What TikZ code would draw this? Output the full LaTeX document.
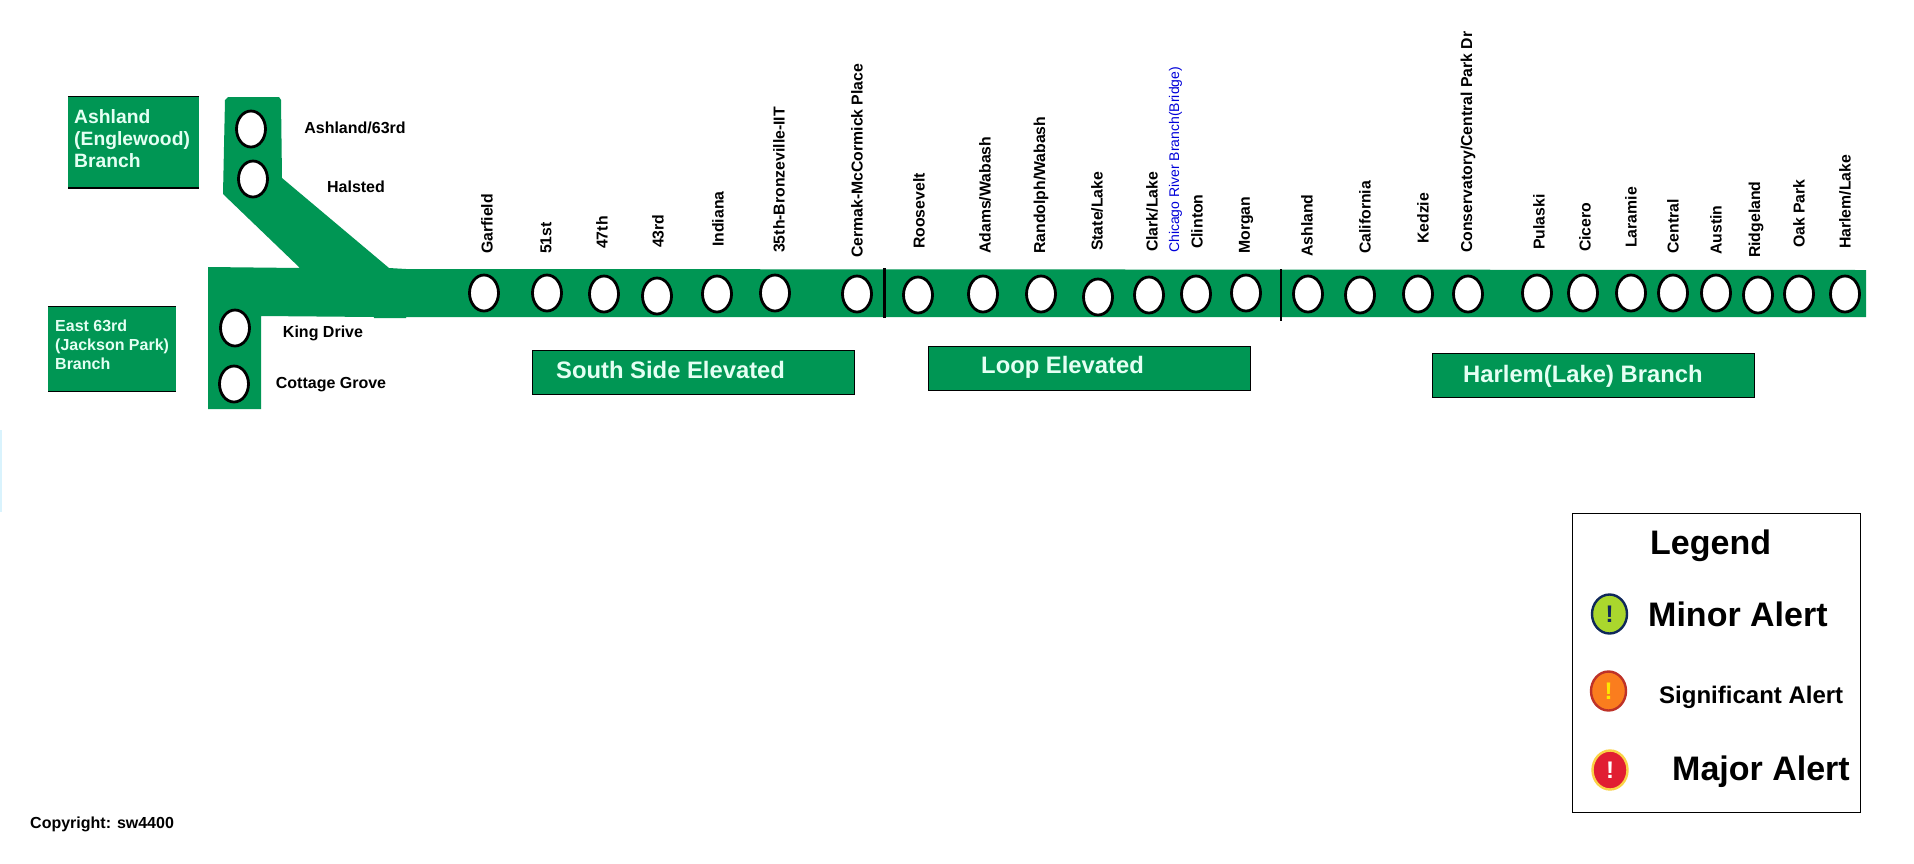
\documentclass[tikz,border=0pt]{standalone}
\usepackage{fontspec}
\setmainfont{Liberation Sans}
\usetikzlibrary{shapes.geometric}
\definecolor{lgreen}{RGB}{0,150,84}
\definecolor{mint}{RGB}{228,255,243}
\tikzset{
 x=1pt,y=-1pt,
 station/.style={draw=black,line width=2.8pt,fill=white,ellipse,minimum width=29pt,minimum height=36pt,inner sep=0pt},
 vlabel/.style={rotate=90,anchor=west,font=\bfseries\fontsize{15.8}{16}\selectfont,inner sep=0pt,yshift=-1pt},
 hlabel/.style={font=\bfseries\fontsize{16}{16}\selectfont,inner sep=0pt},
 greenbox/.style={fill=lgreen,draw=black,line width=.8pt,inner sep=0pt,minimum width=322pt,minimum height=44pt},
 boxtext/.style={text=mint,font=\bfseries\fontsize{23.8}{24}\selectfont,inner sep=0pt,anchor=west},
 branchlabel/.style={text=mint,align=left,anchor=north west,inner sep=0pt},
 legendtext/.style={inner sep=0pt,anchor=west},
 alerticon/.style={ellipse,inner sep=0pt,minimum width=35pt,minimum height=39pt,line width=2.4pt},
 alertmark/.style={font=\bfseries\fontsize{24}{24}\selectfont,inner sep=0pt},
}
\begin{document}
\begin{tikzpicture}
\useasboundingbox (0,0) rectangle (1914,863);
\fill[white] (0,0) rectangle (1914,863);
\fill[cyan!15] (0,430) rectangle (1.5,512);
% track
\fill[lgreen] (208,267) -- (300,268) -- (223,194) -- (225,100) -- (228,97) -- (279,97) -- (281,100) -- (282,178) -- (389,268) -- (406,269) -- (1866,270) -- (1866,317) -- (406,317) -- (406,318) -- (374,318) -- (374,317) -- (261,316) -- (261,409) -- (208,409) -- cycle;
\draw[black,line width=2.8pt] (884.5,268) -- (884.5,318);
\draw[black,line width=2.8pt] (1281,269) -- (1281,321);
% branch boxes
\fill[lgreen] (68,97) rectangle (199,188);
\draw[line width=1.2pt] (68,96.5) -- (199,96.5) (68,188) -- (199,188);
\node[branchlabel,font=\bfseries\fontsize{19.3}{22}\selectfont] (ashbr) at (74,109) {Ashland\\(Englewood)\\Branch};
\fill[lgreen] (48,306) rectangle (176,391);
\draw[line width=1pt] (48,306) -- (176,306) (48,391) -- (176,391);
\node[branchlabel,font=\bfseries\fontsize{16}{19}\selectfont] (eastbr) at (55,320) {East 63rd\\(Jackson Park)\\Branch};
% section boxes
\node[greenbox] (south) at (693.5,372) {};
\node[boxtext] (southt) at (556,370) {South Side Elevated};
\node[greenbox] (loop) at (1089,368) {};
\node[boxtext] (loopt) at (981,367) {Loop Elevated};
\node[greenbox] (harlem) at (1593,375) {};
\node[boxtext] (harlemt) at (1463,376) {Harlem(Lake) Branch};
% stations
\foreach \n/\x/\y in {sa/251/129,sb/253/179,sc/235/328,sd/234/384,
 s1/484/293,s2/547/293,s3/604/294,s4/657/296,s5/717/294,s6/775/293,s7/857/294,
 s8/918/295,s9/983/294,s10/1041/294,s11/1098/297,s12/1149/295,s13/1196/294,s14/1246/293,
 s15/1308/294,s16/1360/295,s17/1418/294,s18/1468/294,s19/1537/293,s20/1583/293,s21/1631/293,
 s22/1673/293,s23/1716/293,s24/1758/295,s25/1799/294,s26/1845/294}
  \node[station] (\n) at (\x,\y) {};
% left labels
\node[hlabel] (la) at (355,127.5) {Ashland/63rd};
\node[hlabel] (lb) at (356,186.5) {Halsted};
\node[hlabel] (lc) at (323,333) {King Drive};
\node[hlabel] (ld) at (331,385) {Cottage Grove};
% vertical labels
\foreach \n/\x/\y/\t in {v1/486/254/Garfield,v2/545/254/51st,v3/601/249/47th,v4/657/248/43rd,v5/717/247/Indiana,v6/778/253/35th-Bronzeville-IIT,v7/856/258/Cermak-McCormick Place,
 v8/918/249/Roosevelt,v9/984/254/{Adams/Wabash},v10/1040/254/{Randolph/Wabash},v11/1096/251/{State/Lake},v12/1151/252/{Clark/Lake},v13/1196/249/Clinton,v14/1245/254/Morgan,
 v15/1306/257/Ashland,v16/1364/254/California,v17/1422/244/Kedzie,v18/1467/253/{Conservatory/Central Park Dr},v19/1538/250/Pulaski,v20/1584/252/Cicero,v21/1630/248/Laramie,v22/1672/254/Central,v23/1715/255/Austin,v24/1755/258/Ridgeland,v25/1798/248/Oak Park,v26/1844/249/{Harlem/Lake}}
  \node[vlabel] (\n) at (\x,\y) {\t};
\node[rotate=90,anchor=west,text=blue!85!black,inner sep=0pt,font=\fontsize{14}{14}\selectfont] (chi) at (1175.5,253) {Chicago River Branch(Bridge)};
% legend
\node[draw=black,line width=.9pt,minimum width=288pt,minimum height=299pt,inner sep=0pt] (legend) at (1716,662.5) {};
\node[legendtext,font=\bfseries\fontsize{34}{34}\selectfont] (lt) at (1650,546) {Legend};
\node[alerticon,draw={rgb,255:red,15;green,40;blue,90},fill={rgb,255:red,170;green,215;blue,45}] (i1) at (1609.5,614) {};
\node[alertmark,text={rgb,255:red,15;green,40;blue,90}] (m1) at (i1) {!};
\node[legendtext,font=\bfseries\fontsize{34}{34}\selectfont] (l1) at (1648,614) {Minor Alert};
\node[alerticon,draw={rgb,255:red,190;green,50;blue,40},fill={rgb,255:red,250;green,125;blue,30}] (i2) at (1608.5,691) {};
\node[alertmark,text=yellow!90!orange] (m2) at (i2) {!};
\node[legendtext,font=\bfseries\fontsize{24}{24}\selectfont] (l2) at (1659,697) {Significant Alert};
\node[alerticon,draw={rgb,255:red,250;green,210;blue,70},fill={rgb,255:red,225;green,30;blue,50}] (i3) at (1610,770) {};
\node[alertmark,text=white] (m3) at (i3) {!};
\node[legendtext,font=\bfseries\fontsize{34}{34}\selectfont] (l3) at (1672,772) {Major Alert};
\node[font=\bfseries\fontsize{16}{16}\selectfont,anchor=west,inner sep=0pt] (copy) at (30,824) {Copyright: sw4400};
\end{tikzpicture}
\end{document}
